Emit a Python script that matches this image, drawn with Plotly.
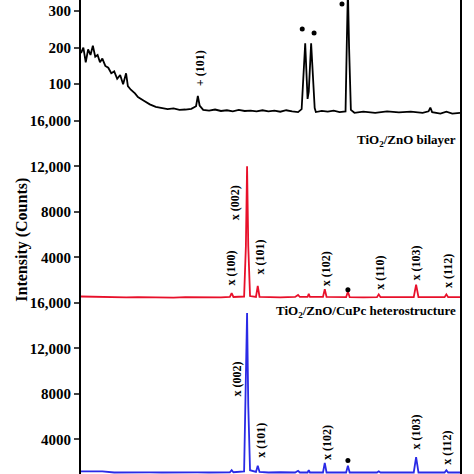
import plotly.graph_objects as go

# Panel 1 (top, black): 2theta, intensity
x1 = [6.4,6.8,7.2,7.6,8.0,8.4,8.8,9.2,9.6,10,10.5,11,11.5,12,12.5,13,13.5,14,14.3,14.8,15.5,16,17,18,19,20,21,22,23,24,25,25.8,26.1,26.4,27,28,29,30,31,32,33,34,35,36,37,38,39,40,41,42,43,43.6,44.2,44.6,44.8,45.2,45.8,46,47,48,49,50,51,51.2,51.4,51.6,51.9,52.5,54,56,58,60,62,64,65,65.3,65.6,67,68,69,70.3]
y1 = [185,200,160,195,180,205,175,180,160,170,150,145,130,135,115,125,100,130,95,85,75,65,55,45,38,35,32,34,30,31,33,40,68,42,30,28,31,27,29,26,30,27,28,26,29,26,28,25,29,26,24,32,212,60,80,212,35,24,27,25,28,24,26,200,360,200,30,22,25,22,26,23,25,22,26,36,24,20,25,20,22]

# Panel 2 (middle, red)
x2 = [6.4,8,10,12,14,16,18,20,22,24,26,28,30,31.5,31.8,32.1,33.9,34.2,34.4,34.6,34.9,35.9,36.2,36.5,38,40,42.5,43,43.3,44.6,44.8,45,47.2,47.5,47.8,49,51.1,51.4,51.7,54,56.3,56.6,56.9,60,62.5,62.9,63.3,66,67.7,68,68.3,70.3]
y2 = [560,540,500,520,480,510,490,500,470,500,480,500,490,520,850,520,560,5000,12000,5000,600,520,1500,520,500,480,520,700,520,520,800,520,520,1200,520,500,500,1000,500,490,500,750,500,510,500,1600,500,500,500,750,500,500]

# Panel 3 (bottom, blue)
x3 = x2
y3 = [1200,1210,1200,1100,1120,1100,1110,1100,1120,1100,1110,1100,1120,1120,1300,1120,1200,8700,15100,7000,1300,1150,1700,1150,1100,1120,1100,1250,1100,1100,1300,1100,1100,1950,1100,1100,1100,1700,1100,1100,1100,1200,1100,1100,1100,2450,1100,1100,1100,1300,1100,1100]

labels2 = ["x (100)","x (002)","x (101)","x (102)","x (110)","x (103)","x (112)"]
lx2 = [31.7,32.5,36.6,47.7,56.8,62.9,68.3]
ly2 = [1320,7120,2290,1320,970,1760,1140]
labels3 = ["x (002)","x (101)","x (102)","x (103)","x (112)"]
lx3 = [32.7,36.8,47.9,62.9,68.1]
ly3 = [7650,2200,2000,2900,1600]

# asterisk-like dot markers
sx1 = [43.7, 45.7, 50.4]; sy1 = [251, 240, 319]
sx2 = [51.4]; sy2 = [1150]
sx3 = [51.4]; sy3 = [2150]

FONT = "Liberation Serif"
fig = go.Figure()
fig.add_trace(go.Scatter(x=x1, y=y1, mode="lines", line=dict(color="black", width=1.8), xaxis="x", yaxis="y"))
fig.add_trace(go.Scatter(x=x2, y=y2, mode="lines", line=dict(color="#e8102a", width=1.8), xaxis="x", yaxis="y2"))
fig.add_trace(go.Scatter(x=x3, y=y3, mode="lines", line=dict(color="#2a2ae6", width=1.8), xaxis="x", yaxis="y3"))
dot = dict(color="black", size=5)
fig.add_trace(go.Scatter(x=sx1, y=sy1, mode="markers", marker=dot, xaxis="x", yaxis="y"))
fig.add_trace(go.Scatter(x=sx2, y=sy2, mode="markers", marker=dot, xaxis="x", yaxis="y2"))
fig.add_trace(go.Scatter(x=sx3, y=sy3, mode="markers", marker=dot, xaxis="x", yaxis="y3"))

tf = dict(family=FONT, size=15, color="black", weight="bold")
ax = dict(showline=True, linecolor="black", linewidth=2, mirror=True, ticks="outside",
          ticklen=5, tickwidth=2, tickfont=tf, showgrid=False, zeroline=False)
fig.update_layout(
    width=474, height=474, margin=dict(l=81, r=14, t=0, b=0, autoexpand=False),
    plot_bgcolor="white", paper_bgcolor="white", showlegend=False,
    xaxis=dict(range=[6.4, 70.3], showticklabels=False, ticks="", showgrid=False, zeroline=False),
    yaxis=dict(domain=[0.745, 1], range=[0, 330], tickvals=[100, 200, 300], **ax),
    yaxis2=dict(domain=[0.361, 0.745], range=[0, 16000], tickvals=[4000, 8000, 12000, 16000],
                ticktext=["4000", "8000", "12,000", "16,000"], **ax),
    yaxis3=dict(domain=[0, 0.361], range=[967, 16000], tickvals=[4000, 8000, 12000, 16000],
                ticktext=["4000", "8000", "12,000", "16,000"], **ax),
)
lf = dict(family=FONT, size=12, color="black", weight="bold")
for t, x, y in zip(labels2, lx2, ly2):
    fig.add_annotation(x=x, y=y, xref="x", yref="y2", text=t, textangle=-90, showarrow=False,
                       yanchor="bottom", font=lf)
for t, x, y in zip(labels3, lx3, ly3):
    fig.add_annotation(x=x, y=y, xref="x", yref="y3", text=t, textangle=-90, showarrow=False,
                       yanchor="bottom", font=lf)
fig.add_annotation(x=26.5, y=90, xref="x", yref="y", text="+ (101)", textangle=-90, showarrow=False,
                   yanchor="bottom", font=lf)
fig.add_annotation(x=0.995, y=0.726, xref="paper", yref="paper", xanchor="right", text="TiO<sub>2</sub>/ZnO bilayer",
                   showarrow=False, font=dict(family=FONT, size=13, color="black", weight="bold"))
fig.add_annotation(x=0.995, y=0.342, xref="paper", yref="paper", xanchor="right", text="TiO<sub>2</sub>/ZnO/CuPc heterostructure",
                   showarrow=False, font=dict(family=FONT, size=13, color="black", weight="bold"))
fig.add_annotation(x=-0.185, y=0.494, xref="paper", yref="paper", text="Intensity (Counts)", textangle=-90,
                   showarrow=False, font=dict(family=FONT, size=16, color="black", weight="bold"))
fig.write_html("out.html", config={"displayModeBar": False},
               post_script="document.body.style.margin='0';document.body.style.overflow='hidden';")
